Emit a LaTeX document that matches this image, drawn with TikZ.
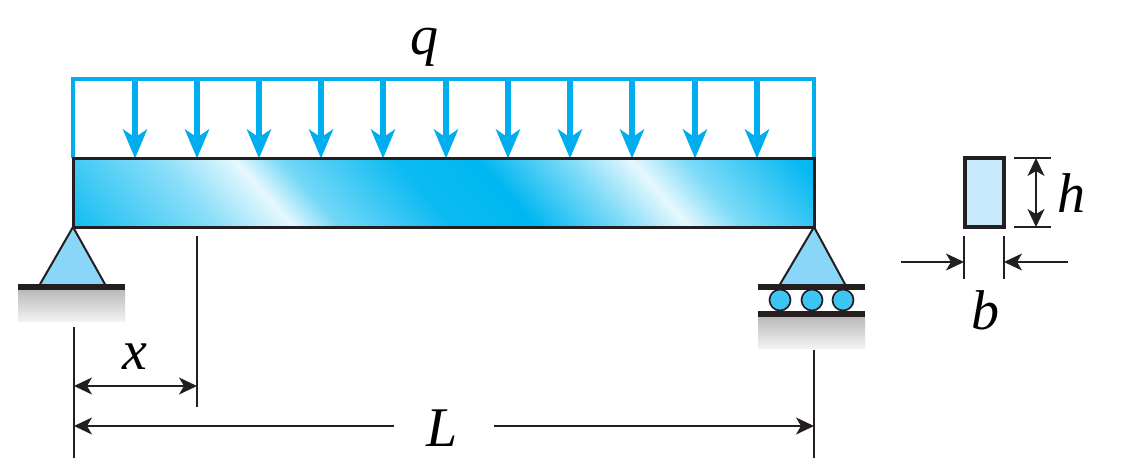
\documentclass[tikz,border=0pt]{standalone}
\usepackage{fontspec}
\setmainfont{Liberation Serif}
\usetikzlibrary{arrows.meta}
\definecolor{ink}{HTML}{231F20}
\definecolor{loadblue}{HTML}{00AEEF}
\definecolor{beamblue}{HTML}{00B7F1}
\definecolor{triblue}{HTML}{8AD6F8}
\definecolor{rollblue}{HTML}{3DC6F4}
\definecolor{secblue}{HTML}{C7E9FB}
\pgfdeclarehorizontalshading{beamshade}{100bp}{
 color(0bp)=(beamblue);
 color(25bp)=(beamblue);
 color(31.5bp)=(beamblue!90!white);
 color(38bp)=(beamblue!45!white);
 color(41.5bp)=(beamblue!10!white);
 color(43.7bp)=(beamblue!55!white);
 color(49bp)=(beamblue!95!white);
 color(53bp)=(beamblue);
 color(57.2bp)=(beamblue!50!white);
 color(60.2bp)=(beamblue!10!white);
 color(62.7bp)=(beamblue!50!white);
 color(68bp)=(beamblue!97!white);
 color(100bp)=(beamblue)}
\pgfdeclareverticalshading{groundshade}{100bp}{
 color(0bp)=(black!5);
 color(25bp)=(black!5);
 color(75bp)=(black!29);
 color(100bp)=(black!29)}
\tikzset{
 x=1pt,y=-1pt,
 loadarrow/.style={draw=loadblue,line width=6pt,-{Stealth[length=29pt,width=24pt,inset=8pt]},shorten >=-0.5pt},
 dim/.style={draw=ink,line width=1.9pt},
 dimarrow/.style={dim,{Stealth[length=18pt,width=17pt,inset=5pt]}-{Stealth[length=18pt,width=17pt,inset=5pt]}},
 onearrow/.style={dim,-{Stealth[length=18pt,width=17pt,inset=5pt]}},
 plate/.style={fill=ink,draw=none},
 ground/.style={shading=groundshade,draw=none},
 tri/.style={fill=triblue,draw=ink,line width=2pt,line join=round},
 roller/.style={circle,draw=ink,line width=1.7pt,fill=rollblue,minimum size=21pt,inner sep=0pt},
 lab/.style={font=\itshape\fontsize{56}{56}\selectfont,text=black,inner sep=0pt},
}
\begin{document}
\begin{tikzpicture}
\useasboundingbox (0,0) rectangle (1145,472);
\fill[white] (0,0) rectangle (1145,472);
\coordinate (BL) at (73,227);
\coordinate (BR) at (814,227);
% load block
\draw[loadblue,line width=3.6pt] (73,158) -- (73,79) -- (814,79) -- (814,158);
\foreach \i/\xx in {1/135,2/197,3/259,4/321,5/383,6/446,7/508,8/570,9/632,10/695,11/757}{
  \coordinate (lt\i) at (\xx,79);
  \coordinate (lb\i) at (\xx,158);
  \draw[loadarrow] (lt\i) -- (lb\i);
}
% beam
\begin{scope}
\clip (73,158) rectangle (814,227);
\shade[shading=beamshade,shading angle=41] (43,-208) rectangle (843,592);
\end{scope}
\draw[ink,line width=3pt] (73,158) rectangle (814,227);
% left support
\shade[ground] (18,287) rectangle (125,321);
\draw[tri] (BL) -- (39,286) -- (106,286) -- cycle;
\fill[plate] (18,284) rectangle (125,290);
% right support
\shade[ground] (758,314) rectangle (865,348);
\draw[tri] (BR) -- (779,286) -- (846,286) -- cycle;
\node[roller] (r1) at (780,300) {};
\node[roller] (r2) at (812,300) {};
\node[roller] (r3) at (843,300) {};
\fill[plate] (758,284) rectangle (865,290);
\fill[plate] (758,311) rectangle (865,317);
% dimensions x, L
\coordinate (e0t) at (74,327); \coordinate (e0b) at (74,458);
\coordinate (e1t) at (197,236); \coordinate (e1b) at (197,407);
\coordinate (e2t) at (814,350); \coordinate (e2b) at (814,458);
\draw[dim] (e0t) -- (e0b);
\draw[dim] (e1t) -- (e1b);
\draw[dim] (e2t) -- (e2b);
\coordinate (xa) at (74,386); \coordinate (xb) at (197,386);
\draw[dimarrow] (xa) -- (xb);
\node[lab] (xlab) at (135,357) {x};
\node[lab] (Llab) at (442,428) {L};
\coordinate (La) at (394,426); \coordinate (Lb) at (494,426);
\coordinate (L0) at (74,426); \coordinate (L1) at (814,426);
\draw[onearrow] (La) -- (L0);
\draw[onearrow] (Lb) -- (L1);
\node[lab] (qlab) at (424,47) {q};
% cross-section
\draw[ink,line width=3.6pt,fill=secblue] (965,158) rectangle (1004,227);
\coordinate (h1a) at (1014,158); \coordinate (h1b) at (1051,158);
\coordinate (h2a) at (1014,227); \coordinate (h2b) at (1051,227);
\draw[dim] (h1a) -- (h1b);
\draw[dim] (h2a) -- (h2b);
\coordinate (hu) at (1036,158); \coordinate (hd) at (1036,227);
\draw[dimarrow] (hu) -- (hd);
\node[lab] (hlab) at (1071,193) {h};
\coordinate (b1t) at (964,236); \coordinate (b1b) at (964,279);
\coordinate (b2t) at (1004,236); \coordinate (b2b) at (1004,279);
\draw[dim] (b1t) -- (b1b);
\draw[dim] (b2t) -- (b2b);
\coordinate (ba) at (901,262); \coordinate (bb) at (964,262);
\coordinate (bc) at (1068,262); \coordinate (bd) at (1004,262);
\draw[onearrow] (ba) -- (bb);
\draw[onearrow] (bc) -- (bd);
\node[lab] (blab) at (985,310) {b};
\end{tikzpicture}
\end{document}
